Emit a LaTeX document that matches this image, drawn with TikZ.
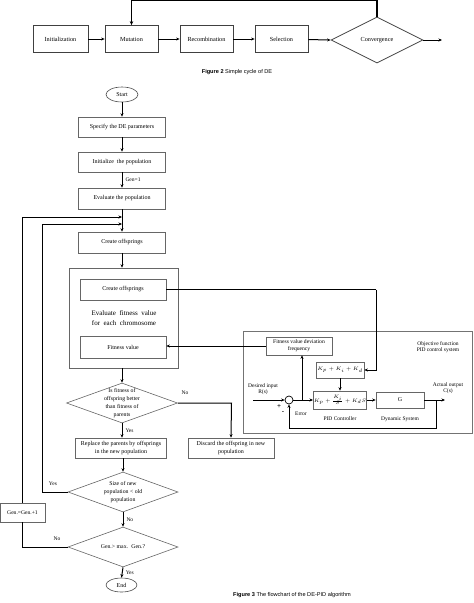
\documentclass[tikz,border=0pt]{standalone}
\usepackage{fontspec}
\setmainfont{Liberation Serif}
\newfontfamily\capfont{Liberation Sans}
\usetikzlibrary{arrows.meta,shapes.geometric,calc}
\tikzset{
  box/.style={draw=black!60, line width=0.6pt, fill=white, align=center, inner sep=0.5pt,
    font=\fontsize{6}{7.5}\selectfont},
  topbox/.style={draw=black!75, line width=0.8pt, align=center, inner sep=0.5pt,
    minimum width=53pt, minimum height=27pt, font=\fontsize{6.2}{7.5}\selectfont},
  dia/.style={diamond, draw=black!60, line width=0.6pt, inner sep=0pt},
  diatext/.style={align=center, font=\fontsize{5.8}{7.8}\selectfont, inner sep=0pt},
  oval/.style={ellipse, draw=black!70, line width=0.6pt, inner sep=0pt,
    font=\fontsize{6}{7}\selectfont},
  arr/.style={-{Stealth[length=3.5pt,width=3pt]}, line width=1pt},
  ln/.style={line width=1pt},
  lbl/.style={font=\fontsize{5.5}{6.5}\selectfont, inner sep=0pt, align=center},
  captext/.style={font=\capfont\fontsize{5.6}{7}\selectfont, inner sep=0pt}
}
\begin{document}
\begin{tikzpicture}[x=1pt, y=-1pt]
\useasboundingbox (0,0) rectangle (474,603);

% ---------- Figure 2 ----------
\node[topbox, minimum width=55pt] (init) at (60.5,39) {Initialization};
\node[topbox] (mut) at (131.5,39) {Mutation};
\node[topbox] (rec) at (206.5,39) {Recombination};
\node[topbox] (sel) at (281.5,39) {Selection};
\node[diamond, draw=black!75, line width=0.8pt, inner sep=0pt, minimum width=92pt, minimum height=46pt,
  label={[font=\fontsize{6.2}{7.5}\selectfont]center:Convergence}] (conv) at (377,40) {};
\coordinate (out) at (442,40);
\draw[arr] (init) -- (mut);
\draw[arr] (mut) -- (rec);
\draw[arr] (rec) -- (sel);
\draw[arr] (sel) -- (conv.west);
\draw[arr] (conv.east) -- (out);
\draw[-{Stealth[length=4pt,width=3.5pt]}, line width=1.6pt] (conv.north) -- ++(0,-16) -| (mut.north);
\node[captext] (cap2) at (237,72) {\textbf{Figure 2} Simple cycle of DE};

% ---------- Figure 3 ----------
\node[oval, minimum width=32pt, minimum height=15pt] (start) at (122,94.5) {Start};
\node[box, minimum width=87pt, minimum height=20pt] (spec) at (122,127) {Specify the DE parameters};
\node[box, minimum width=87pt, minimum height=20pt] (initp) at (122,162) {Initialize \ the population};
\node[box, minimum width=87pt, minimum height=21pt] (evalp) at (122,198.5) {Evaluate the population};
\node[box, minimum width=87pt, minimum height=21pt] (create1) at (122,242.5) {Create offsprings};
\node[draw=black!60, line width=0.6pt, minimum width=109pt, minimum height=100pt, inner sep=0pt] (big) at (123.5,318) {};
\node[box, minimum width=86pt, minimum height=21pt] (create2) at (123,289.5) {Create offsprings};
\node[align=center, font=\fontsize{7}{10}\selectfont, inner sep=0pt] (evtext) at (124,318) {Evaluate \ fitness \ value\\for \ each \ chromosome};
\node[box, minimum width=86pt, minimum height=22pt] (fitv) at (123,347) {Fitness value};

\node[dia, minimum width=111pt, minimum height=40pt,
  label={[diatext]center:{Is fitness of\\offspring better\\than fitness of\\parents}}] (d1) at (122,403) {};
\node[box, minimum width=91pt, minimum height=20pt] (repl) at (121,448) {Replace the parents by offsprings\\in the new population};
\node[box, minimum width=86pt, minimum height=20pt] (disc) at (231,448) {Discard the offspring in new\\population};
\node[dia, minimum width=110pt, minimum height=40pt,
  label={[diatext]center:{Size of new\\population {<} old\\population}}] (d2) at (123,492) {};
\node[dia, minimum width=110pt, minimum height=40pt,
  label={[diatext]center:{Gen.> max. \ Gen.?}}] (d3) at (123,547) {};
\node[box, minimum width=45pt, minimum height=19pt, font=\fontsize{5.6}{7}\selectfont] (gen) at (22.5,512.5) {Gen.=Gen.+1};
\node[oval, minimum width=31pt, minimum height=14pt] (stop) at (121.5,585) {End};

\coordinate (j1) at (122,217);
\coordinate (j2) at (122,224);

\draw[arr] (start) -- (spec);
\draw[arr] (spec) -- (initp);
\draw[arr] (initp) -- (evalp) node[lbl, midway, right=3pt] {Gen=1};
\draw[arr] (evalp.south -| j1) -- (create1.north -| j1);
\draw[arr] (create1.south -| j1) -- (big.north -| j1);
\draw[arr] (big.south -| j1) -- (d1.north);
\draw[arr] (d1.south) -- (d1.south |- repl.north) node[lbl, midway, right=3pt] {Yes};
\draw[arr] (d1.east) -- (231.5,403) -- (disc.north) ;
\node[lbl] (no1) at (185,393) {No};
\draw[arr] (repl.south -| d2.north) -- (d2.north);
\draw[arr] (d2.south) -- (d3.north) node[lbl, midway, right=3pt] {No};
\draw[arr] (d3.south) -- (stop.north) node[lbl, midway, right=3pt] {Yes};
\draw[arr] (d2.west) -- (42,492) -- (42,224) -- (j2);
\node[lbl] (yes2) at (53,484) {Yes};
\draw[ln] (d3.west) -- (22.5,547) -- (gen.south);
\draw[arr] (gen.north) -- (22.5,217) -- (j1);
\node[lbl] (no3) at (57,539) {No};

% ---------- PID panel ----------
\node[draw=black!55, line width=0.6pt, minimum width=229pt, minimum height=102pt, inner sep=0pt] (panel) at (357.5,382) {};
\node[box, minimum width=66pt, minimum height=18pt, font=\fontsize{5.6}{7}\selectfont] (fdev) at (299,346) {Fitness value deviation\\frequency};
\node[lbl] (obj) at (438,347) {Objective function\\PID control system};
\node[box, minimum width=48pt, minimum height=16pt, font=\fontsize{4.8}{6}\selectfont] (kpk) at (340,370) {$K_p+K_i+K_d$};
\node[box, minimum width=48pt, minimum height=18pt, font=\fontsize{4.8}{6}\selectfont] (pid) at (340,400) {$K_p+\frac{K_i}{S}+K_dS$};
\node[box, minimum width=48pt, minimum height=16pt] (G) at (400,400) {G};
\node[circle, draw=black, line width=0.7pt, minimum size=8pt, inner sep=0pt] (sum) at (289,400) {};
\coordinate (rin) at (253,400);
\coordinate (cout) at (445,400);
\coordinate (br) at (302,400);
\coordinate (fb) at (436,400);

\draw[ln] (create2.east) -- (376,289.5) coordinate (c1);
\draw[arr] (c1) |- (kpk.east);
\draw[arr] (fdev.west) -- (fdev.west -| fitv.east);
\draw[arr] (kpk.south) -- (pid.north);
\draw[arr] (rin) -- (sum.west);
\draw[arr] (sum.east) -- (pid.west);
\draw[arr] (br) -- (br |- fdev.south);
\draw[arr] (pid.east) -- (G.west);
\draw[arr] (G.east) -- (cout);
\draw[arr] (fb) -- (436,428) -| (sum.south);

\node[lbl] (din) at (263,389) {Desired input\\R(s)};
\node[lbl, font=\bfseries\fontsize{7}{7}\selectfont] (plus) at (279,407) {+};
\node[lbl, font=\bfseries\fontsize{7}{7}\selectfont] (minus) at (283,413) {-};
\node[lbl] (err) at (301,414) {Error};
\node[lbl] (pidl) at (340,419) {PID Controller};
\node[lbl] (dyn) at (400,419) {Dynamic System};
\node[lbl] (aout) at (448,388) {Actual output\\C(s)};

\node[captext] (cap3) at (292,595) {\textbf{Figure 3} The flowchart of the DE-PID algorithm};
\end{tikzpicture}
\end{document}
